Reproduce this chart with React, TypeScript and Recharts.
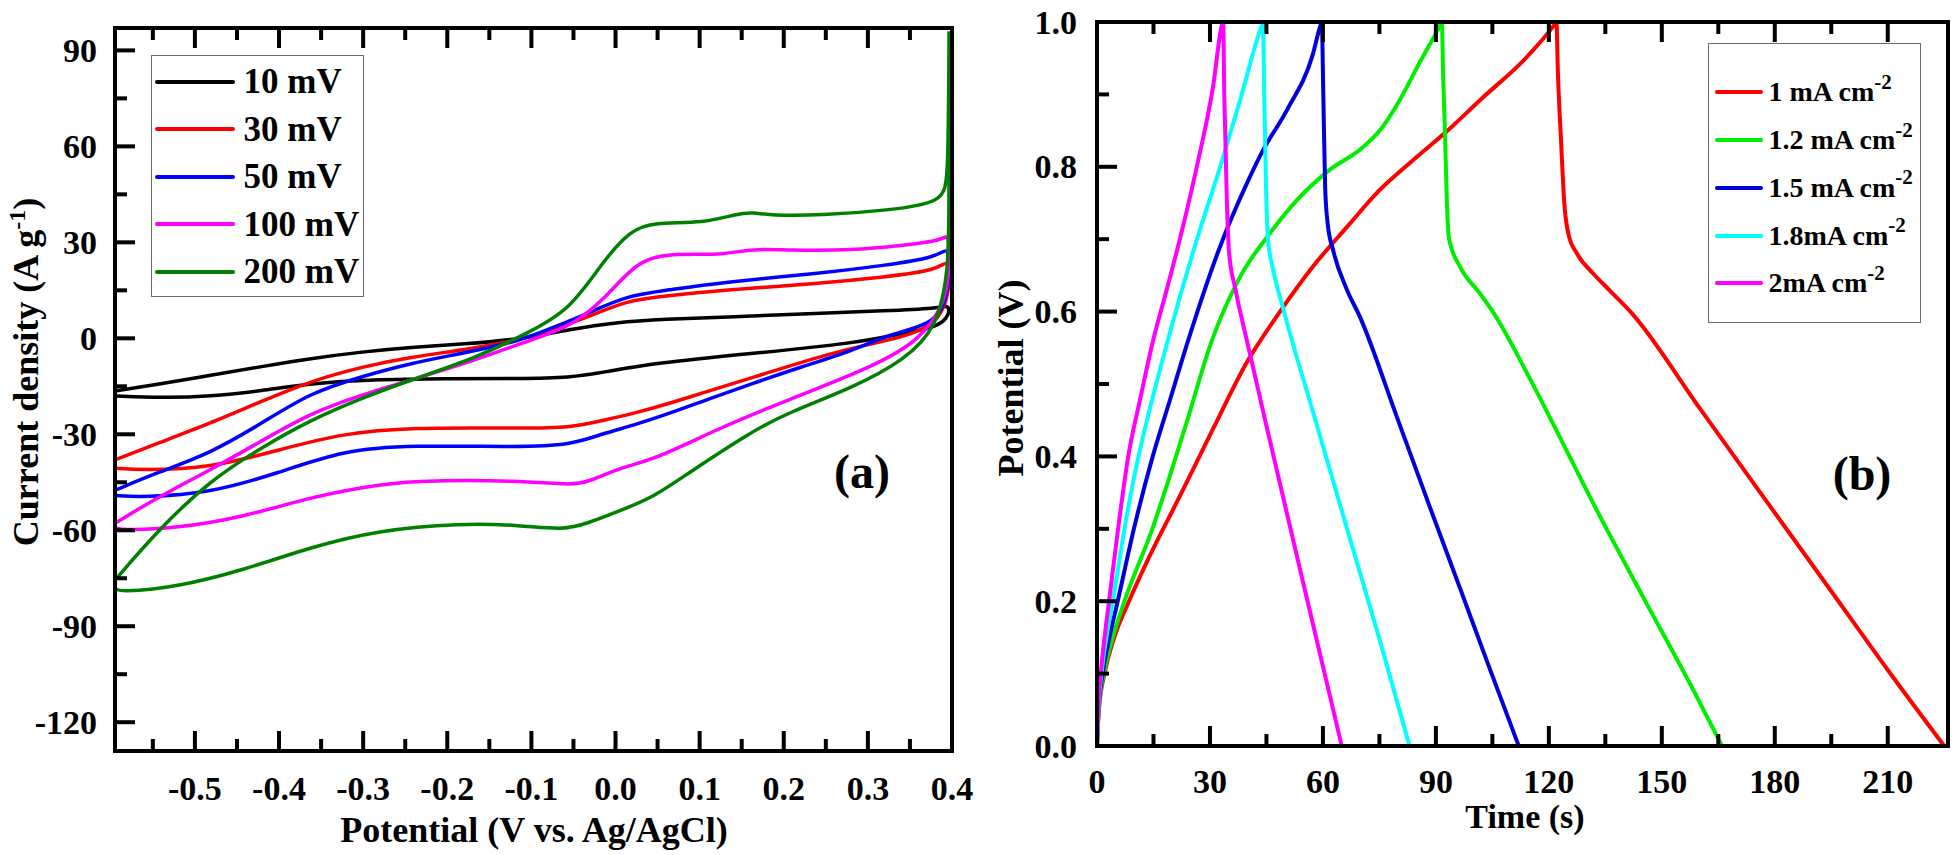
import { Legend, Line, LineChart, XAxis, YAxis } from "recharts";

const SERIF = "'Liberation Serif', 'Times New Roman', Times, serif";

type Pt = [number, number];

// CV loops, [E (V vs Ag/AgCl), j (A g-1)]: anodic sweep to the vertex, then the cathodic return
const cv10: Pt[] = [
  [-0.595, -16.5], [-0.55, -14.6], [-0.482, -11.6], [-0.42, -8.8], [-0.363, -6.3], [-0.3, -4.2],
  [-0.244, -2.8], [-0.18, -1.8], [-0.113, -0.3], [-0.054, 2.8], [0.0, 5.0], [0.06, 6.0], [0.125, 6.6],
  [0.244, 7.8], [0.32, 8.6], [0.383, 9.4], [0.395, 10.4],
  [0.397, 8.6], [0.394, 6.4], [0.383, 3.6], [0.343, 1.6], [0.283, -1.6], [0.164, -4.7], [0.045, -7.8],
  [-0.014, -10.6], [-0.054, -12.3], [-0.113, -12.6], [-0.2, -12.6], [-0.29, -12.9], [-0.363, -14.1],
  [-0.42, -16.4], [-0.482, -18.2], [-0.54, -18.6], [-0.595, -18.0],
];
const cv30: Pt[] = [
  [-0.595, -38.0], [-0.544, -32.8], [-0.482, -26.6], [-0.42, -19.6], [-0.363, -13.4], [-0.3, -8.8],
  [-0.244, -5.9], [-0.18, -3.6], [-0.113, -0.6], [-0.07, 3.2], [-0.033, 6.6], [0.014, 11.9], [0.06, 13.2],
  [0.125, 15.0], [0.244, 17.2], [0.32, 19.2], [0.383, 21.2], [0.396, 25.0],
  [0.397, 19.0], [0.395, 12.8], [0.383, 4.7], [0.343, 0.3], [0.283, -2.8], [0.22, -7.5], [0.164, -12.2],
  [0.11, -16.5], [0.065, -20.3], [0.02, -23.6], [-0.014, -25.6], [-0.054, -28.0], [-0.113, -28.1],
  [-0.244, -27.8], [-0.324, -29.7], [-0.402, -35.0], [-0.482, -40.6], [-0.562, -41.2], [-0.595, -40.6],
];
const cv50: Pt[] = [
  [-0.595, -47.5], [-0.544, -41.9], [-0.482, -36.0], [-0.42, -26.5], [-0.363, -17.0], [-0.3, -11.8],
  [-0.244, -7.8], [-0.18, -4.6], [-0.113, -0.8], [-0.07, 3.8], [-0.033, 7.8], [0.014, 13.4], [0.06, 15.0],
  [0.125, 17.5], [0.244, 20.3], [0.32, 22.8], [0.383, 25.3], [0.396, 29.0],
  [0.397, 22.0], [0.395, 14.0], [0.383, 4.7], [0.324, 1.2], [0.283, -3.8], [0.22, -9.0], [0.164, -14.0],
  [0.11, -19.0], [0.065, -23.4], [0.02, -27.3], [-0.014, -29.7], [-0.054, -33.4], [-0.113, -34.0],
  [-0.244, -33.4], [-0.324, -35.0], [-0.402, -42.2], [-0.482, -48.4], [-0.562, -49.7], [-0.595, -49.1],
];
const cv100: Pt[] = [
  [-0.595, -57.8], [-0.544, -49.7], [-0.482, -41.2], [-0.42, -32.0], [-0.363, -23.4], [-0.3, -17.5],
  [-0.244, -13.1], [-0.18, -8.0], [-0.113, -1.6], [-0.054, 3.4], [-0.014, 11.9], [0.026, 24.4],
  [0.065, 26.6], [0.125, 25.9], [0.164, 28.1], [0.204, 27.5], [0.283, 27.5], [0.34, 29.0], [0.39, 30.6],
  [0.396, 33.0],
  [0.397, 24.0], [0.394, 11.9], [0.363, -0.6], [0.304, -9.1], [0.204, -19.4], [0.125, -27.8], [0.045, -38.1],
  [0.006, -40.3], [-0.033, -45.0], [-0.054, -45.9], [-0.113, -44.4], [-0.244, -44.4], [-0.3, -46.5],
  [-0.363, -49.7], [-0.443, -55.9], [-0.522, -59.4], [-0.59, -60.0], [-0.595, -59.0],
];
const cv200: Pt[] = [
  [-0.595, -75.6], [-0.544, -60.0], [-0.482, -44.4], [-0.42, -34.0], [-0.363, -25.6], [-0.3, -18.5],
  [-0.244, -13.1], [-0.164, -5.9], [-0.105, 1.6], [-0.054, 8.8], [-0.014, 24.4], [0.018, 33.8],
  [0.045, 36.3], [0.105, 35.9], [0.145, 39.0], [0.164, 39.4], [0.184, 38.4], [0.244, 38.4], [0.324, 40.0],
  [0.39, 42.5], [0.3955, 50.0], [0.3965, 96.0], [0.3965, 96.0], [0.3965, 96.0],
  [0.3965, 40.0], [0.396, 22.0], [0.383, 3.4], [0.343, -6.9], [0.283, -15.3], [0.204, -23.4], [0.164, -28.8],
  [0.086, -42.2], [0.045, -49.7], [0.006, -53.8], [-0.033, -57.8], [-0.062, -60.0], [-0.113, -58.4],
  [-0.184, -57.8], [-0.283, -60.0], [-0.363, -65.3], [-0.443, -72.5], [-0.522, -77.8], [-0.59, -79.4],
  [-0.595, -78.0],
];

const cvLabels = ["10 mV", "30 mV", "50 mV", "100 mV", "200 mV"];
const cvKeys = ["cv10", "cv30", "cv50", "cv100", "cv200"];
const cvColors = ["#000000", "#ff0000", "#0000ff", "#ff00ff", "#008000"];
const cvLoops = [cv10, cv30, cv50, cv100, cv200];

// galvanostatic charge–discharge, [t (s), E (V)]
const gcd1: Pt[] = [
  [0, 0], [0.5, 0.05], [2.0, 0.1], [4.6, 0.15], [8.5, 0.2], [13.3, 0.255], [22, 0.345], [31, 0.44],
  [39.8, 0.53], [48.6, 0.6], [57.3, 0.662], [66.4, 0.717], [75.1, 0.768], [83.9, 0.809], [92.9, 0.849],
  [101.7, 0.892], [114.2, 0.952], [121.3, 0.995], [122, 1.0],
  [122.4, 0.93], [123.2, 0.84], [124.1, 0.75], [125.3, 0.705], [127.5, 0.68], [131.7, 0.653], [136, 0.63],
  [142, 0.598], [160, 0.467], [176, 0.351], [194, 0.221], [210, 0.105], [225, 0],
];
const gcd12: Pt[] = [
  [0, 0], [0.45, 0.05], [1.8, 0.1], [4.2, 0.15], [7.3, 0.2], [14.7, 0.3], [23.4, 0.44], [30.5, 0.56],
  [38, 0.648], [45.9, 0.708], [53.1, 0.754], [61.1, 0.793], [70.6, 0.827], [75.1, 0.85], [79.6, 0.885],
  [85.8, 0.945], [91.2, 0.996], [91.6, 1.0],
  [91.9, 0.93], [92.4, 0.85], [92.9, 0.754], [93.5, 0.7], [96.4, 0.662], [101.7, 0.625], [105.1, 0.6],
  [114.2, 0.515], [122.1, 0.435], [131.7, 0.336], [145, 0.206], [158.2, 0.079], [166, 0],
];
const gcd15: Pt[] = [
  [0, 0], [0.4, 0.05], [1.5, 0.1], [3.3, 0.15], [5.5, 0.2], [9.8, 0.3], [14.8, 0.4], [19.5, 0.48],
  [23.9, 0.555], [32.7, 0.69], [39.8, 0.777], [44.1, 0.823], [50.4, 0.878], [57.3, 0.955], [59.4, 0.996],
  [59.7, 1.0],
  [60.1, 0.9], [60.6, 0.77], [61.3, 0.72], [62.7, 0.685], [66.4, 0.63], [69.8, 0.593], [79.6, 0.455],
  [88.4, 0.33], [96.4, 0.218], [104, 0.111], [112, 0],
];
const gcd18: Pt[] = [
  [0, 0], [0.35, 0.05], [1.2, 0.1], [2.5, 0.15], [4.2, 0.2], [7.3, 0.3], [10.6, 0.39], [11.9, 0.42],
  [17.5, 0.535], [22, 0.62], [26.5, 0.699], [32.7, 0.8], [38, 0.892], [43.8, 0.996], [44.1, 1.0],
  [44.4, 0.9], [44.9, 0.77], [45.4, 0.7], [46.7, 0.66], [49.4, 0.605], [58, 0.45], [66.4, 0.3],
  [75, 0.148], [83, 0],
];
const gcd2: Pt[] = [
  [0, 0], [0.3, 0.05], [1.0, 0.1], [2.0, 0.15], [3.2, 0.2], [5.6, 0.3], [8.3, 0.4], [11.5, 0.48],
  [14.9, 0.56], [18.5, 0.63], [22, 0.7], [26.5, 0.8], [30.8, 0.91], [33.2, 0.996], [33.5, 1.0],
  [33.8, 0.9], [34.5, 0.75], [35.1, 0.68], [36.8, 0.63], [39.8, 0.56], [45.1, 0.44], [55, 0.22], [65, 0],
];

const gcdLabels = ["1 mA cm", "1.2 mA cm", "1.5 mA cm", "1.8mA cm", "2mA cm"];
const gcdKeys = ["i1", "i12", "i15", "i18", "i2"];
const gcdColors = ["#ff0000", "#00ee00", "#0000dd", "#00ffff", "#ff00ff"];
const gcdCurves = [gcd1, gcd12, gcd15, gcd18, gcd2];

const potentialTicks = [
  -0.55, -0.5, -0.45, -0.4, -0.35, -0.3, -0.25, -0.2, -0.15, -0.1, -0.05,
  0, 0.05, 0.1, 0.15, 0.2, 0.25, 0.3, 0.35, 0.4,
];
const currentTicks = [-120, -105, -90, -75, -60, -45, -30, -15, 0, 15, 30, 45, 60, 75, 90];
const timeTicks = [0, 15, 30, 45, 60, 75, 90, 105, 120, 135, 150, 165, 180, 195, 210];
const voltTicks = [0, 0.1, 0.2, 0.3, 0.4, 0.5, 0.6, 0.7, 0.8, 0.9, 1.0];

// one table per chart: each row carries x and the value of a single series,
// so every Line walks its own points in order (loops included)
const tableOf = (series: Pt[][], keys: string[]) =>
  series.flatMap((pts, k) => pts.map(([x, y]) => ({ x, [keys[k]]: y })));

const cvRows = tableOf(cvLoops, cvKeys);
const gcdRows = tableOf(gcdCurves, gcdKeys);

const tenths = (v: number) => Math.abs(v * 10 - Math.round(v * 10)) < 1e-6;
const every30 = (v: number) => v % 30 === 0;
const evenTenths = (v: number) => Math.round(v * 10) % 2 === 0;

const frame = { stroke: "#000", strokeWidth: 4, strokeLinecap: "square" as const };
const tickFont = { fontFamily: SERIF, fontWeight: 700, fontSize: 34, fill: "#000" };

type Side = "left" | "right" | "top" | "bottom";

// inward tick marks (long for major, short for minor); labels only on major ticks
function axisTick(side: Side, isMajor: (v: number) => boolean, format?: (v: number) => string, gap = 0) {
  return function TickMark(props: any) {
    const { x, y, payload } = props;
    const value = payload.value as number;
    const major = isMajor(value);
    const len = major ? 20 : 12;
    const dx = side === "left" ? len : side === "right" ? -len : 0;
    const dy = side === "bottom" ? -len : side === "top" ? len : 0;
    let label = null;
    if (format && major) {
      label =
        side === "left" ? (
          <text x={x - gap} y={y} dy="0.34em" textAnchor="end" style={tickFont}>
            {format(value)}
          </text>
        ) : (
          <text x={x} y={y + gap} textAnchor="middle" style={tickFont}>
            {format(value)}
          </text>
        );
    }
    return (
      <g>
        <line x1={x} y1={y} x2={x + dx} y2={y + dy} stroke="#000" strokeWidth={4} />
        {label}
      </g>
    );
  };
}

type LegendBoxProps = {
  labels: string[];
  colors: string[];
  width: number;
  height: number;
  padTop: number;
  rowH: number;
  lineLeft: number;
  lineLen: number;
  gap: number;
  fontSize: number;
  sup?: string;
};

function LegendBox({ labels, colors, width, height, padTop, rowH, lineLeft, lineLen, gap, fontSize, sup }: LegendBoxProps) {
  return (
    <div
      style={{
        boxSizing: "border-box",
        width,
        height,
        border: "1.5px solid #6b6b6b",
        background: "#fff",
        paddingTop: padTop,
        fontFamily: SERIF,
        fontWeight: 700,
        fontSize,
        color: "#000",
      }}
    >
      {labels.map((label, k) => (
        <div key={label} style={{ display: "flex", alignItems: "center", height: rowH, whiteSpace: "nowrap" }}>
          <span style={{ marginLeft: lineLeft, width: lineLen, height: 4, background: colors[k], borderRadius: 2, flex: "none" }} />
          <span style={{ marginLeft: gap, lineHeight: 1 }}>
            {label}
            {sup && (
              <span style={{ fontSize: "0.75em", position: "relative", top: "-0.6em" }}>{sup}</span>
            )}
          </span>
        </div>
      ))}
    </div>
  );
}

function CvPanel() {
  return (
    <div style={{ position: "absolute", left: 0, top: 0 }}>
      <LineChart width={1000} height={855} data={cvRows} margin={{ top: 27, right: 47, bottom: 0, left: 0 }}>
        <XAxis
          dataKey="x"
          type="number"
          domain={[-0.595, 0.4]}
          ticks={potentialTicks}
          interval={0}
          height={104}
          tickSize={0}
          tickMargin={0}
          tickLine={false}
          axisLine={frame}
          tick={axisTick("bottom", tenths, (v) => v.toFixed(1), 49)}
        />
        <XAxis
          xAxisId="top"
          orientation="top"
          dataKey="x"
          type="number"
          domain={[-0.595, 0.4]}
          ticks={potentialTicks}
          interval={0}
          height={1}
          tickSize={0}
          tickMargin={0}
          tickLine={false}
          axisLine={frame}
          tick={axisTick("top", tenths)}
        />
        <YAxis
          type="number"
          domain={[-129, 97]}
          ticks={currentTicks}
          interval={0}
          width={115}
          tickSize={0}
          tickMargin={0}
          tickLine={false}
          axisLine={frame}
          tick={axisTick("left", every30, (v) => String(v), 18)}
        />
        <YAxis
          yAxisId="right"
          orientation="right"
          type="number"
          domain={[-129, 97]}
          ticks={currentTicks}
          interval={0}
          width={1}
          tickSize={0}
          tickMargin={0}
          tickLine={false}
          axisLine={frame}
          tick={axisTick("right", every30)}
        />
        {cvKeys.map((key, k) => (
          <Line
            key={key}
            dataKey={key}
            type="basis"
            connectNulls
            stroke={cvColors[k]}
            strokeWidth={3.5}
            dot={false}
            activeDot={false}
            isAnimationActive={false}
          />
        ))}
        <Legend
          layout="vertical"
          align="center"
          verticalAlign="middle"
          wrapperStyle={{ left: 151, top: 55 }}
          content={() => (
            <LegendBox
              labels={cvLabels}
              colors={cvColors}
              width={213}
              height={242}
              padTop={1.75}
              rowH={47.5}
              lineLeft={2.5}
              lineLen={80}
              gap={9}
              fontSize={35}
            />
          )}
        />
      </LineChart>
    </div>
  );
}

function GcdPanel() {
  return (
    <div style={{ position: "absolute", left: 1000, top: 0 }}>
      <LineChart width={958} height={855} data={gcdRows} margin={{ top: 21, right: 9, bottom: 0, left: 0 }}>
        <XAxis
          dataKey="x"
          type="number"
          domain={[0, 226]}
          ticks={timeTicks}
          interval={0}
          height={109}
          tickSize={0}
          tickMargin={0}
          tickLine={false}
          axisLine={frame}
          tick={axisTick("bottom", every30, (v) => String(v), 47)}
        />
        <XAxis
          xAxisId="top"
          orientation="top"
          dataKey="x"
          type="number"
          domain={[0, 226]}
          ticks={timeTicks}
          interval={0}
          height={1}
          tickSize={0}
          tickMargin={0}
          tickLine={false}
          axisLine={frame}
          tick={axisTick("top", every30)}
        />
        <YAxis
          type="number"
          domain={[0, 1]}
          ticks={voltTicks}
          interval={0}
          width={97}
          tickSize={0}
          tickMargin={0}
          tickLine={false}
          axisLine={frame}
          tick={axisTick("left", evenTenths, (v) => v.toFixed(1), 20)}
        />
        <YAxis
          yAxisId="right"
          orientation="right"
          type="number"
          domain={[0, 1]}
          ticks={voltTicks}
          interval={0}
          width={1}
          tickSize={0}
          tickMargin={0}
          tickLine={false}
          axisLine={frame}
          tick={axisTick("right", evenTenths)}
        />
        {gcdKeys.map((key, k) => (
          <Line
            key={key}
            dataKey={key}
            type="monotoneX"
            connectNulls
            stroke={gcdColors[k]}
            strokeWidth={4}
            dot={false}
            activeDot={false}
            isAnimationActive={false}
          />
        ))}
        <Legend
          layout="vertical"
          align="center"
          verticalAlign="middle"
          wrapperStyle={{ left: 708, top: 43 }}
          content={() => (
            <LegendBox
              labels={gcdLabels}
              colors={gcdColors}
              width={213}
              height={280}
              padTop={24.6}
              rowH={47.75}
              lineLeft={5.5}
              lineLen={48}
              gap={6}
              fontSize={28}
              sup="-2"
            />
          )}
        />
      </LineChart>
    </div>
  );
}

function Titles() {
  const t = { fontFamily: SERIF, fontWeight: 700, fill: "#000" };
  return (
    <svg width={1958} height={855} style={{ position: "absolute", left: 0, top: 0, pointerEvents: "none" }}>
      <text transform="translate(38 372) rotate(-90)" textAnchor="middle" fontSize={36} style={t}>
        Current density (A g<tspan dy={-13} fontSize={24}>-1</tspan>
        <tspan dy={13}>)</tspan>
      </text>
      <text x={534} y={842} textAnchor="middle" fontSize={36} style={t}>
        Potential (V vs. Ag/AgCl)
      </text>
      <text x={862} y={488} textAnchor="middle" fontSize={48} style={t}>
        (a)
      </text>
      <text transform="translate(1023 378) rotate(-90)" textAnchor="middle" fontSize={36} style={t}>
        Potential (V)
      </text>
      <text x={1525} y={828} textAnchor="middle" fontSize={34} style={t}>
        Time (s)
      </text>
      <text x={1862} y={490} textAnchor="middle" fontSize={48} style={t}>
        (b)
      </text>
    </svg>
  );
}

export default function App() {
  return (
    <div style={{ position: "relative", width: 1958, height: 855, background: "#fff", overflow: "hidden" }}>
      <style>{"body{margin:0}"}</style>
      <CvPanel />
      <GcdPanel />
      <Titles />
    </div>
  );
}
